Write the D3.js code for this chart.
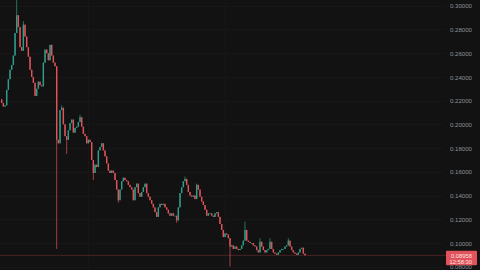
<!DOCTYPE html>
<html lang="en">
<head>
  <meta charset="UTF-8">
  <title>Chart</title>
  <style>
    html, body { margin: 0; padding: 0; background: #121212; }
    svg { display: block; }
    text { font-family: "Liberation Sans", Arial, sans-serif; }
  </style>
</head>
<body>
  <script src="https://d3js.org/d3.v7.min.js"></script>
  <script>
    // closing prices, one per candle (open = previous close)
    const firstOpen = 0.221
    const closes = [
      0.218, 0.215, 0.216, 0.229, 0.238, 0.246, 0.250, 0.258, 0.277, 0.292,
      0.282, 0.265, 0.262, 0.284, 0.274, 0.265, 0.257, 0.246, 0.240, 0.235,
      0.224, 0.230, 0.236, 0.233, 0.232, 0.252, 0.263, 0.260, 0.254, 0.267,
      0.258, 0.252, 0.249, 0.187, 0.184, 0.212, 0.214, 0.200, 0.190, 0.187,
      0.195, 0.201, 0.204, 0.193, 0.197, 0.198, 0.202, 0.206, 0.198, 0.192,
      0.190, 0.184, 0.187, 0.185, 0.170, 0.159, 0.166, 0.164, 0.178, 0.181,
      0.184, 0.178, 0.173, 0.167, 0.161, 0.159, 0.161, 0.159, 0.153, 0.145,
      0.136, 0.145, 0.152, 0.155, 0.153, 0.152, 0.149, 0.147, 0.145, 0.136,
      0.147, 0.150, 0.142, 0.139, 0.143, 0.147, 0.150, 0.142, 0.139, 0.136,
      0.133, 0.130, 0.126, 0.122, 0.130, 0.133, 0.132, 0.133, 0.130, 0.128,
      0.125, 0.123, 0.125, 0.123, 0.123, 0.119, 0.130, 0.142, 0.147, 0.152,
      0.154, 0.149, 0.143, 0.140, 0.139, 0.140, 0.137, 0.149, 0.145, 0.139,
      0.135, 0.132, 0.128, 0.123, 0.125, 0.125, 0.123, 0.122, 0.125, 0.126,
      0.122, 0.116, 0.111, 0.105, 0.108, 0.107, 0.104, 0.097, 0.098, 0.095,
      0.097, 0.095, 0.094, 0.095, 0.098, 0.102, 0.111, 0.102, 0.101, 0.100,
      0.100, 0.098, 0.097, 0.094, 0.092, 0.101, 0.097, 0.094, 0.092, 0.094,
      0.095, 0.101, 0.095, 0.092, 0.091, 0.090, 0.092, 0.094, 0.095, 0.095,
      0.097, 0.098, 0.102, 0.097, 0.094, 0.092, 0.091, 0.090, 0.092, 0.095,
      0.096, 0.091, 0.08958
    ]
    // notable wicks: [candle index, high, low]
    const wicks = [
      [9, 0.305, null], [13, 0.287, null], [33, null, 0.095], [36, 0.216, null],
      [39, null, 0.175], [47, 0.208, null], [55, null, 0.153], [70, null, 0.134],
      [105, null, 0.117], [110, 0.156, null], [117, 0.150, null], [137, null, 0.080],
      [146, 0.118, null], [155, 0.104, null], [161, 0.104, null], [172, 0.104, null]
    ]
    const priceTicks = [0.30, 0.28, 0.26, 0.24, 0.22, 0.20, 0.18, 0.16, 0.14, 0.12, 0.10, 0.08]
    const gridTimeIdx = [52, 134]
    const lastPrice = 0.08958
    const countdown = '12:58:30'

    const width = 480, height = 270
    const upColor = '#2f9e89', downColor = '#e0535a'

    const candles = closes.map((c, i) => {
      const o = i === 0 ? firstOpen : closes[i - 1]
      let h = Math.max(o, c), l = Math.min(o, c)
      const w = wicks.find(d => d[0] === i)
      if (w) { if (w[1] != null) h = w[1]; if (w[2] != null) l = w[2] }
      return { i, o, c, h, l }
    })

    const x = d3.scaleLinear().domain([0, closes.length - 1]).range([1.7, 305])
    const y = d3.scaleLinear().domain([0.08, 0.30]).range([266.7, 5.7])

    const svg = d3.select('body').append('svg')
      .attr('width', width)
      .attr('height', height)

    svg.append('rect').attr('width', width).attr('height', height).attr('fill', '#121212')

    // grid (very faint)
    svg.append('g')
      .selectAll('line')
      .data(priceTicks)
      .join('line')
      .attr('x1', 0).attr('x2', 444)
      .attr('y1', d => Math.round(y(d)) + 0.5).attr('y2', d => Math.round(y(d)) + 0.5)
      .attr('stroke', '#171718')
    svg.append('g')
      .selectAll('line')
      .data(gridTimeIdx)
      .join('line')
      .attr('x1', d => Math.round(x(d)) + 0.5).attr('x2', d => Math.round(x(d)) + 0.5)
      .attr('y1', 0).attr('y2', height)
      .attr('stroke', '#171718')

    // last price line
    svg.append('line')
      .attr('x1', 0).attr('x2', 446)
      .attr('y1', y(lastPrice)).attr('y2', y(lastPrice))
      .attr('stroke', '#e0535a').attr('stroke-opacity', 0.35).attr('stroke-width', 0.8)

    // candles
    const g = svg.append('g')
    g.selectAll('line')
      .data(candles)
      .join('line')
      .attr('x1', d => x(d.i)).attr('x2', d => x(d.i))
      .attr('y1', d => y(d.h)).attr('y2', d => y(d.l))
      .attr('stroke', d => d.c >= d.o ? upColor : downColor)
      .attr('stroke-width', 0.7)
    g.selectAll('rect')
      .data(candles)
      .join('rect')
      .attr('x', d => x(d.i) - 0.7)
      .attr('width', 1.4)
      .attr('y', d => y(Math.max(d.o, d.c)))
      .attr('height', d => Math.max(0.8, y(Math.min(d.o, d.c)) - y(Math.max(d.o, d.c))))
      .attr('fill', d => d.c >= d.o ? upColor : downColor)

    // price axis
    svg.append('g')
      .attr('transform', 'translate(472,0)')
      .call(d3.axisLeft(y).tickValues(priceTicks).tickSize(0).tickFormat(d3.format('.5f')))
      .call(a => a.select('.domain').remove())
      .call(a => a.selectAll('text')
        .attr('x', 0)
        .attr('dy', '0.35em')
        .attr('fill', '#8f9299')
        .attr('font-size', 6.1))

    // last price label
    const ly = y(lastPrice)
    svg.append('rect')
      .attr('x', 446).attr('y', ly - 4.6)
      .attr('width', 31).attr('height', 14.4)
      .attr('rx', 1)
      .attr('fill', '#e0535a')
    svg.append('text')
      .attr('x', 472).attr('y', ly + 0.2)
      .attr('text-anchor', 'end')
      .attr('dy', '0.35em')
      .attr('font-size', 5.8)
      .attr('fill', '#ffe1e1')
      .text(d3.format('.5f')(lastPrice))
    svg.append('text')
      .attr('x', 472).attr('y', ly + 6.4)
      .attr('text-anchor', 'end')
      .attr('dy', '0.35em')
      .attr('font-size', 5.8)
      .attr('fill', '#ffe1e1')
      .text(countdown)
  </script>
</body>
</html>
